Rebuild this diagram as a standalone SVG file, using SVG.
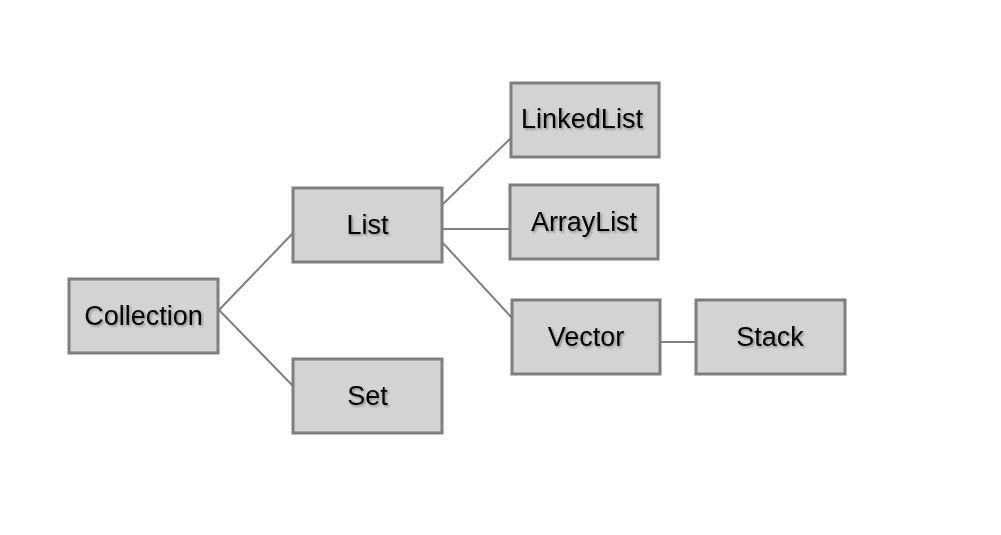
<svg xmlns="http://www.w3.org/2000/svg" width="1001" height="535" viewBox="0 0 1001 535">
<defs>
<filter id="sh" x="-10%" y="-20%" width="130%" height="150%"><feDropShadow dx="1.5" dy="1.5" stdDeviation="1" flood-color="#000" flood-opacity="0.35"/></filter>
</defs>
<style>
.b{fill:#d3d3d3;stroke:#7f7f7f;stroke-width:3}
.t{font-family:"Liberation Sans",Arial,sans-serif;font-size:27px;fill:#000;text-anchor:middle;dominant-baseline:central;filter:url(#sh)}
.c{stroke:#7f7f7f;stroke-width:2;fill:none}
</style>
<rect width="1001" height="535" fill="#fff"/>
<g id="connectors">
<line class="c" x1="219" y1="310" x2="293" y2="233"/>
<line class="c" x1="219" y1="310" x2="293" y2="386"/>
<line class="c" x1="442" y1="205" x2="511" y2="138"/>
<line class="c" x1="442" y1="229" x2="510" y2="229"/>
<line class="c" x1="442" y1="242" x2="512" y2="318"/>
<line class="c" x1="660" y1="342" x2="696" y2="342"/>
</g>
<g id="collection"><rect class="b" x="69" y="279" width="149" height="74"/><text class="t" x="143.5" y="316">Collection</text></g>
<g id="list"><rect class="b" x="293" y="188" width="149" height="74"/><text class="t" x="367.5" y="225">List</text></g>
<g id="set"><rect class="b" x="293" y="359" width="149" height="74"/><text class="t" x="367.5" y="396">Set</text></g>
<g id="linkedlist"><rect class="b" x="511" y="83" width="148" height="74"/><text class="t" x="582" y="119" textLength="122">LinkedList</text></g>
<g id="arraylist"><rect class="b" x="510" y="185" width="148" height="74"/><text class="t" x="584" y="222" textLength="106">ArrayList</text></g>
<g id="vector"><rect class="b" x="512" y="300" width="148" height="74"/><text class="t" x="586" y="337">Vector</text></g>
<g id="stack"><rect class="b" x="696" y="300" width="149" height="74"/><text class="t" x="770" y="337">Stack</text></g>
</svg>
